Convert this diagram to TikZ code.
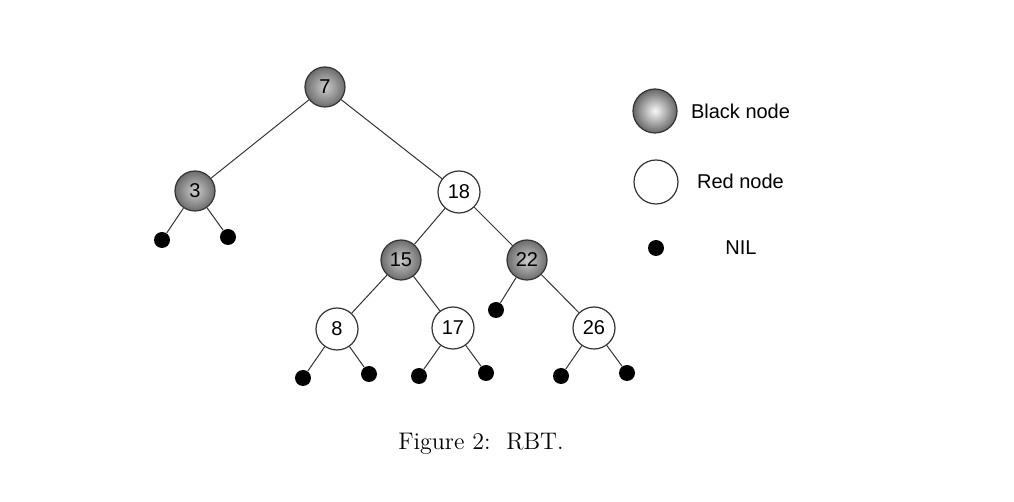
\documentclass[tikz,border=0pt]{standalone}
\usepackage{fontspec}
\newfontfamily\helv{Liberation Sans}
\usepackage{tikz}
\usetikzlibrary{shapes}
\usetikzlibrary{positioning}
\tikzstyle{noir}=[
        circle,
        draw=black!80,
        line width=0.6pt,
        minimum size=20pt,
        inner sep=0pt,
        inner color=gray!40,
        outer color=gray!85!black,
        font=\helv\fontsize{10}{11}\selectfont
]
\tikzstyle{rouge}=[circle,draw=black!80,line width=0.6pt,fill=white,
minimum size=21pt,inner sep=0pt,font=\helv\fontsize{10}{11}\selectfont]
\tikzstyle{nil}=[circle,fill=black,minimum size=8pt,inner sep=0pt]
\tikzstyle{arete}=[draw=black!80,line width=0.5pt]
\tikzstyle{legende}=[font=\helv\fontsize{10}{12}\selectfont,anchor=west]

\begin{document}
\begin{tikzpicture}[x=0.5pt,y=-0.5pt]
\useasboundingbox (0,0) rectangle (1014,502);
\node[noir] (n7) at (325,87) {7};
\node[noir] (n3) at (195,191) {3};
\node[rouge] (n18) at (459,192) {18};
\node[noir] (n15) at (401,260) {15};
\node[noir] (n22) at (527,260) {22};
\node[rouge] (n8) at (337,329) {8};
\node[rouge] (n17) at (453,328) {17};
\node[rouge] (n26) at (594,328) {26};
%feuilles
\node[nil] (l1) at (162,240) {};
\node[nil] (l2) at (228,237) {};
\node[nil] (l3) at (496,310) {};
\node[nil] (l4) at (303,378) {};
\node[nil] (l5) at (369,374) {};
\node[nil] (l6) at (419,376) {};
\node[nil] (l7) at (486,373) {};
\node[nil] (l8) at (561,376) {};
\node[nil] (l9) at (627,373) {};
%aretes
\draw[arete] (n7) -- (n3);
\draw[arete] (n7) -- (n18);
\draw[arete] (n18) -- (n15);
\draw[arete] (n18) -- (n22);
\draw[arete] (n15) -- (n8);
\draw[arete] (n15) -- (n17);
\draw[arete] (n22) -- (l3);
\draw[arete] (n22) -- (n26);
\draw[arete] (n3) -- (l1);
\draw[arete] (n3) -- (l2);
\draw[arete] (n8) -- (l4);
\draw[arete] (n8) -- (l5);
\draw[arete] (n17) -- (l6);
\draw[arete] (n17) -- (l7);
\draw[arete] (n26) -- (l8);
\draw[arete] (n26) -- (l9);
%legende
\node[noir,minimum size=22pt,inner color=gray!5,outer color=gray!80!black] (kn) at (655,111) {};
\node[legende] (tn) at (684,111) {Black node};
\node[rouge,minimum size=22pt] (kr) at (656,182) {};
\node[legende] (tr) at (690,181) {Red node};
\node[nil] (kl) at (656,248) {};
\node[legende,anchor=center] (tl) at (741,248) {NIL};
\node[font=\large] (caption) at (481,444) {Figure 2:\ \ RBT.};
\end{tikzpicture}
\end{document}
